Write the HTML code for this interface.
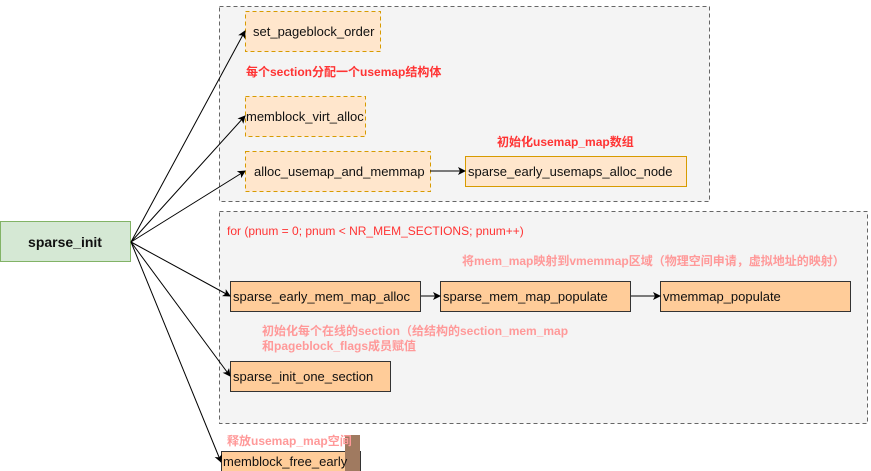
<!DOCTYPE html>
<html><head><meta charset="utf-8"><style>
body{margin:0;background:#fff;}
svg{display:block;}
text{font-family:"Liberation Sans","Noto Sans CJK SC",sans-serif;}
</style></head><body>
<svg width="871" height="471" viewBox="0 0 871 471">
<defs><marker id="a" markerWidth="8" markerHeight="8" refX="7" refY="4" orient="auto" markerUnits="userSpaceOnUse"><path d="M0,0 L8,4 L0,8 L2,4z" fill="#000"/></marker></defs>
<rect x="219.5" y="6.5" width="490" height="195" fill="#f4f4f4" stroke="#666" stroke-dasharray="4,3"/>
<rect x="219.5" y="211.5" width="648" height="212" fill="#f4f4f4" stroke="#666" stroke-dasharray="4,3"/>
<rect x="0.5" y="221.5" width="130" height="40" fill="#d5e8d4" stroke="#82b366"/>
<text x="65" y="247" font-size="14" text-anchor="middle" font-weight="bold" fill="#111">sparse_init</text>
<g fill="#ffe6cc" stroke="#d79b00" stroke-dasharray="4,3">
<rect x="245.5" y="11.5" width="135" height="40"/>
<rect x="245.5" y="96.5" width="120" height="40"/>
<rect x="245.5" y="151.5" width="185" height="40"/>
</g>
<rect x="465.5" y="156.5" width="221" height="30" fill="#ffe6cc" stroke="#d79b00"/>
<g fill="#ffcc99" stroke="#333">
<rect x="230.5" y="281.5" width="190" height="30"/>
<rect x="440.5" y="281.5" width="190" height="30"/>
<rect x="660.5" y="281.5" width="190" height="30"/>
<rect x="230.5" y="361.5" width="160" height="30"/>
<rect x="221.5" y="451.5" width="139" height="22"/>
</g>
<rect x="345" y="435" width="15" height="36" fill="#a07a60"/>
<g font-size="13" fill="#111">
<text x="253" y="36">set_pageblock_order</text>
<text x="246" y="121">memblock_virt_alloc</text>
<text x="254" y="176">alloc_usemap_and_memmap</text>
<text x="468" y="176">sparse_early_usemaps_alloc_node</text>
<text x="233" y="301">sparse_early_mem_map_alloc</text>
<text x="443" y="301">sparse_mem_map_populate</text>
<text x="663" y="301">vmemmap_populate</text>
<text x="233" y="381">sparse_init_one_section</text>
<text x="223" y="466">memblock_free_early</text>
</g>
<g font-size="12" font-weight="bold">
<text x="246" y="76" fill="#ff3333">每个section分配一个usemap结构体</text>
<text x="497" y="146" fill="#ff3333">初始化usemap_map数组</text>
<text x="227" y="235" fill="#ff3333" font-weight="normal">for (pnum = 0; pnum &lt; NR_MEM_SECTIONS; pnum++)</text>
<text x="462" y="265" fill="#ff9999">将mem_map映射到vmemmap区域（物理空间申请，虚拟地址的映射）</text>
<text x="262" y="335" fill="#ff9999">初始化每个在线的section（给结构的section_mem_map</text>
<text x="262" y="350" fill="#ff9999">和pageblock_flags成员赋值</text>
<text x="227" y="445" fill="#ff9999">释放usemap_map空间</text>
</g>
<g stroke="#000" fill="none" marker-end="url(#a)">
<line x1="131" y1="242" x2="245" y2="31"/>
<line x1="131" y1="242" x2="245" y2="116"/>
<line x1="131" y1="242" x2="245" y2="171"/>
<line x1="131" y1="242" x2="230" y2="296"/>
<line x1="131" y1="242" x2="230" y2="376"/>
<line x1="131" y1="242" x2="221" y2="462"/>
<line x1="430" y1="171" x2="465" y2="171"/>
<line x1="421" y1="296" x2="440" y2="296"/>
<line x1="631" y1="296" x2="660" y2="296"/>
</g>
</svg>
</body></html>
